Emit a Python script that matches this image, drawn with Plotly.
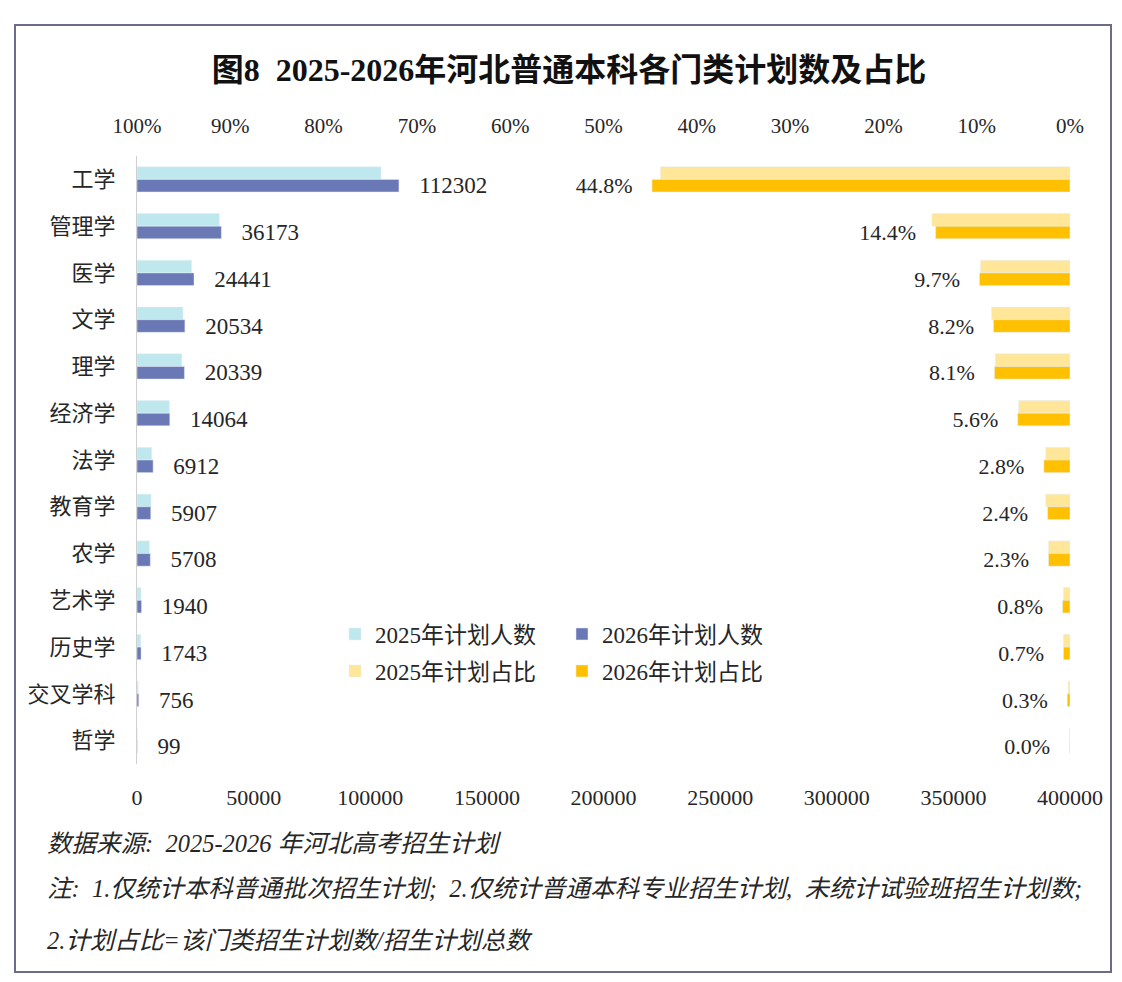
import plotly.graph_objects as go

# 门类 (top to bottom)
categories = ["工学", "管理学", "医学", "文学", "理学", "经济学", "法学",
              "教育学", "农学", "艺术学", "历史学", "交叉学科", "哲学"]

# plan counts
plan_2025 = [104600, 35300, 23400, 19700, 19200, 13900, 6300,
             6000, 5300, 1700, 1600, 500, 100]
plan_2026 = [112302, 36173, 24441, 20534, 20339, 14064, 6912,
             5907, 5708, 1940, 1743, 756, 99]

# share of total plan (%)
share_2025 = [43.9, 14.8, 9.6, 8.4, 8.0, 5.5, 2.6, 2.6, 2.3, 0.7, 0.7, 0.2, 0.05]
share_2026 = [44.8, 14.4, 9.7, 8.2, 8.1, 5.6, 2.8, 2.4, 2.3, 0.8, 0.7, 0.3, 0.04]

count_ticks = [0, 50000, 100000, 150000, 200000, 250000, 300000, 350000, 400000]
share_ticks = [0, 10, 20, 30, 40, 50, 60, 70, 80, 90, 100]
share_ticktext = [str(v) + "%" for v in share_ticks]

title_text = "图8  2025-2026年河北普通本科各门类计划数及占比"
notes = ["数据来源:  2025-2026 年河北高考招生计划",
         "注:  1.仅统计本科普通批次招生计划;  2.仅统计普通本科专业招生计划,  未统计试验班招生计划数;",
         "2.计划占比=该门类招生计划数/招生计划总数"]

FONT = "Liberation Serif, Noto Sans CJK SC, serif"
TXT = "#262626"
W, H = 1122, 982
OFF = 8  # page body margin pushes the figure by this much
ML, MR, MT, MB = 137 - OFF, 52 + OFF, 156 - OFF, 218 + OFF
PW, PH = W - ML - MR, H - MT - MB


def px_x(px):
    # px measured on the screenshot
    return (px - OFF - ML) / PW


def px_y(py):
    return (H - MB - (py - OFF)) / PH


nb = "\u00a0"

fig = go.Figure()
fig.add_trace(go.Bar(y=categories, x=plan_2025, orientation="h", name="2025年计划人数",
                     marker_color="#bfe8ee", legend="legend"))
fig.add_trace(go.Bar(y=categories, x=plan_2026, orientation="h", name="2026年计划人数",
                     marker_color="#6a78b6", legend="legend",
                     text=[nb * 3 + str(v) for v in plan_2026], textposition="outside",
                     constraintext="none", cliponaxis=False,
                     textfont=dict(family=FONT, size=23, color=TXT)))
fig.add_trace(go.Bar(y=categories, x=share_2025, orientation="h", name="2025年计划占比",
                     marker_color="#ffe699", xaxis="x2", legend="legend2"))
fig.add_trace(go.Bar(y=categories, x=share_2026, orientation="h", name="2026年计划占比",
                     marker_color="#ffc000", xaxis="x2", legend="legend2",
                     text=["%.1f%%" % v + nb * 3 for v in share_2026], textposition="outside",
                     constraintext="none", cliponaxis=False,
                     textfont=dict(family=FONT, size=22, color=TXT)))

fig.update_layout(
    width=W, height=H,
    margin=dict(l=ML, r=MR, t=MT, b=MB),
    paper_bgcolor="white", plot_bgcolor="white",
    font=dict(family=FONT, size=21, color=TXT),
    barmode="group", bargap=0.46, bargroupgap=0,
    showlegend=True,
    title=dict(text="<b>" + title_text + "</b>", x=0.5, xanchor="center",
               y=1 - (70 - OFF) / H, yanchor="middle",
               font=dict(family=FONT, size=32, color="#111111")),
    xaxis=dict(range=[0, 400000], tickvals=count_ticks, tickformat="d",
               showgrid=False, zeroline=False, showline=False, ticks="",
               ticklabelstandoff=18, tickfont=dict(size=22)),
    xaxis2=dict(overlaying="x", side="top", range=[100, 0], tickmode="array",
                tickvals=share_ticks, ticktext=share_ticktext, showgrid=False,
                zeroline=False, showline=False, ticks="", ticklabelstandoff=18,
                tickfont=dict(size=21)),
    yaxis=dict(autorange="reversed", showline=True, linecolor="#d0d0d0", linewidth=1,
               ticks="", showgrid=False, ticklabelstandoff=16,
               tickfont=dict(size=22)),
    legend=dict(orientation="h", x=px_x(335), y=px_y(634), xanchor="left",
                yanchor="middle", entrywidth=182, entrywidthmode="pixels",
                font=dict(size=23), bgcolor="rgba(0,0,0,0)"),
    legend2=dict(orientation="h", x=px_x(335), y=px_y(671), xanchor="left",
                 yanchor="middle", entrywidth=182, entrywidthmode="pixels",
                 font=dict(size=23), bgcolor="rgba(0,0,0,0)"),
)

# frame around the whole chart
fig.add_shape(type="rect", xref="paper", yref="paper",
              x0=px_x(15), x1=px_x(1111), y0=px_y(972), y1=px_y(25),
              line=dict(color="#6b6b8c", width=2), fillcolor="rgba(0,0,0,0)")

for text, py in zip(notes, [843, 888, 940]):
    fig.add_annotation(text="<i>" + text + "</i>", xref="paper", yref="paper",
                       x=px_x(45), y=px_y(py), xanchor="left", yanchor="middle",
                       showarrow=False, font=dict(size=24.5, color=TXT))

fig.write_html("out.html")
